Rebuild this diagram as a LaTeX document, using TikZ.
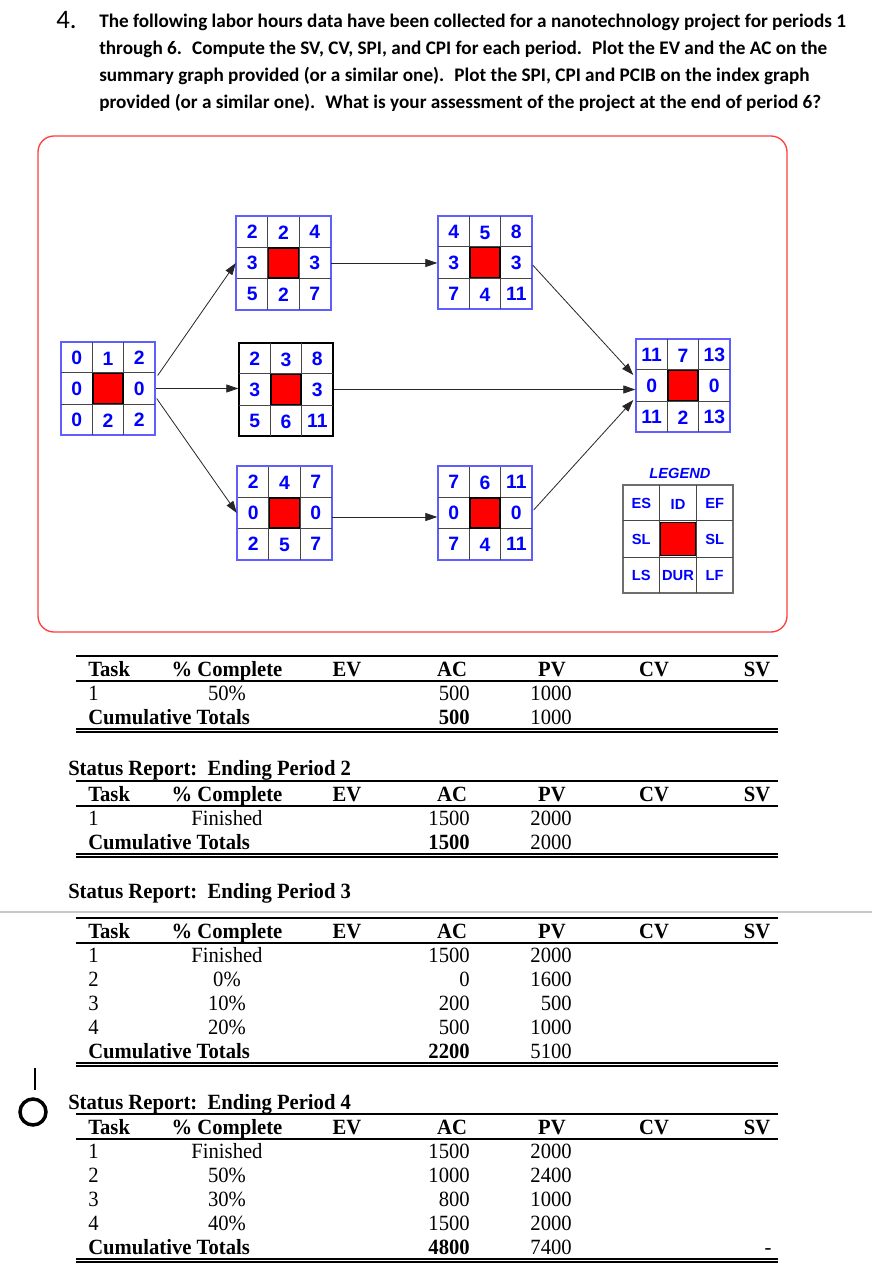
\documentclass[tikz,border=0pt]{standalone}
\usepackage{fontspec}
\setmainfont{Liberation Serif}
\newfontfamily\tnr[FakeStretch=0.95]{Liberation Serif}
\newfontfamily\hdfont{Carlito}
\newfontfamily\arialfont{Liberation Sans}
\usetikzlibrary{arrows.meta,calc}
\definecolor{boxred}{RGB}{255,64,64}
\definecolor{numblue}{RGB}{0,0,255}
\definecolor{boxblue}{RGB}{95,95,255}
\definecolor{gridgray}{RGB}{70,70,70}
\definecolor{leggray}{RGB}{110,110,110}
\definecolor{sepgray}{RGB}{200,200,200}
\tikzset{
  hd/.style={anchor=base west, inner sep=0, font=\hdfont\bfseries\fontsize{14.4pt}{16pt}\selectfont},
  actbox/.style={draw, line width=1pt, minimum width=70.5pt, minimum height=69.75pt, inner sep=0},
  legbox/.style={draw=leggray, line width=1pt, minimum width=82.5pt, minimum height=81pt, inner sep=0},
  gridline/.style={draw=gridgray, line width=0.7pt},
  redsq/.style={fill=red, draw=black, line width=0.8pt, minimum size=22.5pt, inner sep=0},
  num/.style={inner sep=0, text=numblue, font=\arialfont\bfseries\fontsize{14.5pt}{16pt}\selectfont},
  legtext/.style={inner sep=0, text=numblue, font=\arialfont\bfseries\fontsize{11pt}{12pt}\selectfont},
  arr/.style={draw=black!85, line width=0.6pt, -{Triangle[length=9pt,width=6pt]}},
  tfont/.style={font=\tnr\fontsize{16.3pt}{18pt}\selectfont},
  tbfont/.style={font=\tnr\bfseries\fontsize{16.3pt}{18pt}\selectfont},
  tb/.style={anchor=base, inner sep=0, tbfont},
  tbl/.style={anchor=base west, inner sep=0, tbfont},
  tc/.style={anchor=base, inner sep=0, tfont},
  tl/.style={anchor=base west, inner sep=0, tfont},
  tr/.style={anchor=base east, inner sep=0, tfont},
  tre/.style={anchor=base east, inner sep=0, tbfont},
  rulethick/.style={line width=1.1pt},
  rulethin/.style={line width=0.8pt},
}
\def\cw{31.3}\def\ch{31}
\newcommand\gridlines[2]{% name, border colour
  \draw[gridline] ($(#1.north west)!1/3!(#1.north east)$) -- ($(#1.south west)!1/3!(#1.south east)$);
  \draw[gridline] ($(#1.north west)!2/3!(#1.north east)$) -- ($(#1.south west)!2/3!(#1.south east)$);
  \draw[gridline] ($(#1.north west)!1/3!(#1.south west)$) -- ($(#1.north east)!1/3!(#1.south east)$);
  \draw[gridline] ($(#1.north west)!2/3!(#1.south west)$) -- ($(#1.north east)!2/3!(#1.south east)$);
  \draw[draw=#2, line width=1pt] (#1.north west) rectangle (#1.south east);
  \node[redsq] (#1-id) at (#1.center) {};
}
\newcommand\nums[9]{%
  \node[num] (#1-tl) at ($(#1.center)+(-\cw,-\ch)$) {#2};
  \node[num] (#1-tm) at ($(#1.center)+(0,-\ch+1)$) {#3};
  \node[num] (#1-tr) at ($(#1.center)+(\cw,-\ch)$) {#4};
  \node[num] (#1-ml) at ($(#1.center)+(-\cw,0)$) {#5};
  \node[num] (#1-mr) at ($(#1.center)+(\cw,0)$) {#6};
  \node[num] (#1-bl) at ($(#1.center)+(-\cw,\ch)$) {#7};
  \node[num] (#1-bm) at ($(#1.center)+(0,\ch+1)$) {#8};
  \node[num] (#1-br) at ($(#1.center)+(\cw,\ch)$) {#9};
}
% table header row
\newcommand\theader[1]{%
  \node[tbl] at (88,#1) {Task};
  \node[tb] at (227,#1) {\% Complete};
  \node[tb] at (347,#1) {EV};
  \node[tb] at (452,#1) {AC};
  \node[tb] at (552,#1) {PV};
  \node[tb] at (654,#1) {CV};
  \node[tb] at (757,#1) {SV};
}
\newcommand\trow[5]{% y, task, pct, ac, pv
  \node[tl] at (88,#1) {#2};
  \node[tc] at (227,#1) {#3};
  \node[tr] at (470,#1) {#4};
  \node[tr] at (572,#1) {#5};
}
\newcommand\tcum[3]{% y, ac, pv
  \node[tbl] at (88,#1) {Cumulative Totals};
  \node[tre] at (470,#1) {#2};
  \node[tr] at (572,#1) {#3};
}
\newcommand\trules[3]{% top, header rule, cum baseline
  \draw[rulethick] (76,#1) -- (778,#1);
  \draw[rulethin] (76,#2) -- (778,#2);
  \draw[rulethick] (76,#3+5) -- (778,#3+5);
  \draw[rulethick] (76,#3+8) -- (778,#3+8);
}
\begin{document}
\begin{tikzpicture}[x=0.75pt,y=-0.75pt]
\useasboundingbox (0,0) rectangle (872,1282);
\fill[white] (0,0) rectangle (872,1282);

% question header
\node[anchor=base west, inner sep=0, font=\hdfont\fontsize{20pt}{22pt}\selectfont] (qn) at (56,28) {4.};
\node[hd] (h1) at (99,27) {The following labor hours data have been collected for a nanotechnology project for periods 1};
\node[hd] (h2) at (99,54) {through 6.~ Compute the SV, CV, SPI, and CPI for each period.~ Plot the EV and the AC on the};
\node[hd] (h3) at (99,81) {summary graph provided (or a similar one).~ Plot the SPI, CPI and PCIB on the index graph};
\node[hd] (h4) at (99,108) {provided (or a similar one).~ What is your assessment of the project at the end of period 6?};

% network frame
\draw[boxred, line width=1pt, rounded corners=12] (38,136) rectangle (787,632);

% activity boxes
\node[actbox, draw=boxblue] (A) at (108,388.5) {};
\node[actbox, draw=boxblue] (B) at (283.5,263) {};
\node[actbox, draw=black] (C) at (286,389.5) {};
\node[actbox, draw=boxblue] (D) at (485,262.5) {};
\node[actbox, draw=boxblue] (E) at (683,385.5) {};
\node[actbox, draw=boxblue] (F) at (284.5,513) {};
\node[actbox, draw=boxblue] (G) at (485,513) {};
\gridlines{A}{boxblue}\gridlines{B}{boxblue}\gridlines{C}{black}
\gridlines{D}{boxblue}\gridlines{E}{boxblue}\gridlines{F}{boxblue}\gridlines{G}{boxblue}
\nums{A}{0}{1}{2}{0}{0}{0}{2}{2}
\nums{B}{2}{2}{4}{3}{3}{5}{2}{7}
\nums{C}{2}{3}{8}{3}{3}{5}{6}{11}
\nums{D}{4}{5}{8}{3}{3}{7}{4}{11}
\nums{E}{11}{7}{13}{0}{0}{11}{2}{13}
\nums{F}{2}{4}{7}{0}{0}{2}{5}{7}
\nums{G}{7}{6}{11}{0}{0}{7}{4}{11}

% connectors
\draw[arr] ($(A.east)+(2,-13)$) -- (B.west);
\draw[arr] (A.east) -- (A.east -| C.west);
\draw[arr] ($(A.east)+(1,10)$) -- (F.west);
\draw[arr] (B.east) -- (B.east -| D.west);
\draw[arr] ($(D.east)+(0,2.5)$) -- ($(E.west)+(-2,-10.5)$);
\draw[arr] (C.east) -- (C.east -| E.west);
\draw[arr] ($(G.east)+(1,-3)$) -- ($(E.west)+(-2,14.5)$);
\draw[arr] ($(F.east)+(0,4)$) -- ($(G.west)+(0,4)$);

% legend
\node[anchor=base, inner sep=0, text=numblue, font=\arialfont\bfseries\itshape\fontsize{11pt}{12pt}\selectfont] (legt) at (680,478) {LEGEND};
\node[legbox] (L) at (678,539) {};
\gridlines{L}{leggray}
\node[redsq, minimum width=26pt, minimum height=24.5pt] at (L.center) {};
\begin{scope}[num/.style={legtext}]
\def\cw{36.7}\def\ch{36}
\nums{L}{ES}{ID}{EF}{SL}{SL}{LS}{DUR}{LF}
\end{scope}

% period 1 table
\trules{656}{681}{724}
\theader{676}
\trow{700}{1}{50\%}{500}{1000}
\tcum{724}{500}{1000}

% period 2
\node[tbl] (s2) at (68,775) {Status Report:~~Ending Period 2};
\trules{781}{806}{849}
\theader{801}
\trow{825}{1}{Finished}{1500}{2000}
\tcum{849}{1500}{2000}

% period 3
\node[tbl] (s3) at (68,898) {Status Report:~~Ending Period 3};
\draw[sepgray, line width=0.8pt] (0,912) -- (872,912);
\trules{918}{943}{1058}
\theader{938}
\trow{962}{1}{Finished}{1500}{2000}
\trow{986}{2}{0\%}{0}{1600}
\trow{1010}{3}{10\%}{200}{500}
\trow{1034}{4}{20\%}{500}{1000}
\tcum{1058}{2200}{5100}

% period 4
\draw[line width=0.8pt] (35,1068) -- (35,1090);
\draw[line width=2.6pt] (33,1112) circle [radius=13];
\node[tbl] (s4) at (68,1109) {Status Report:~~Ending Period 4};
\trules{1114}{1139}{1254}
\theader{1134}
\trow{1158}{1}{Finished}{1500}{2000}
\trow{1182}{2}{50\%}{1000}{2400}
\trow{1206}{3}{30\%}{800}{1000}
\trow{1230}{4}{40\%}{1500}{2000}
\tcum{1254}{4800}{7400}
\node[tc] at (768,1254) {-};
\end{tikzpicture}
\end{document}
